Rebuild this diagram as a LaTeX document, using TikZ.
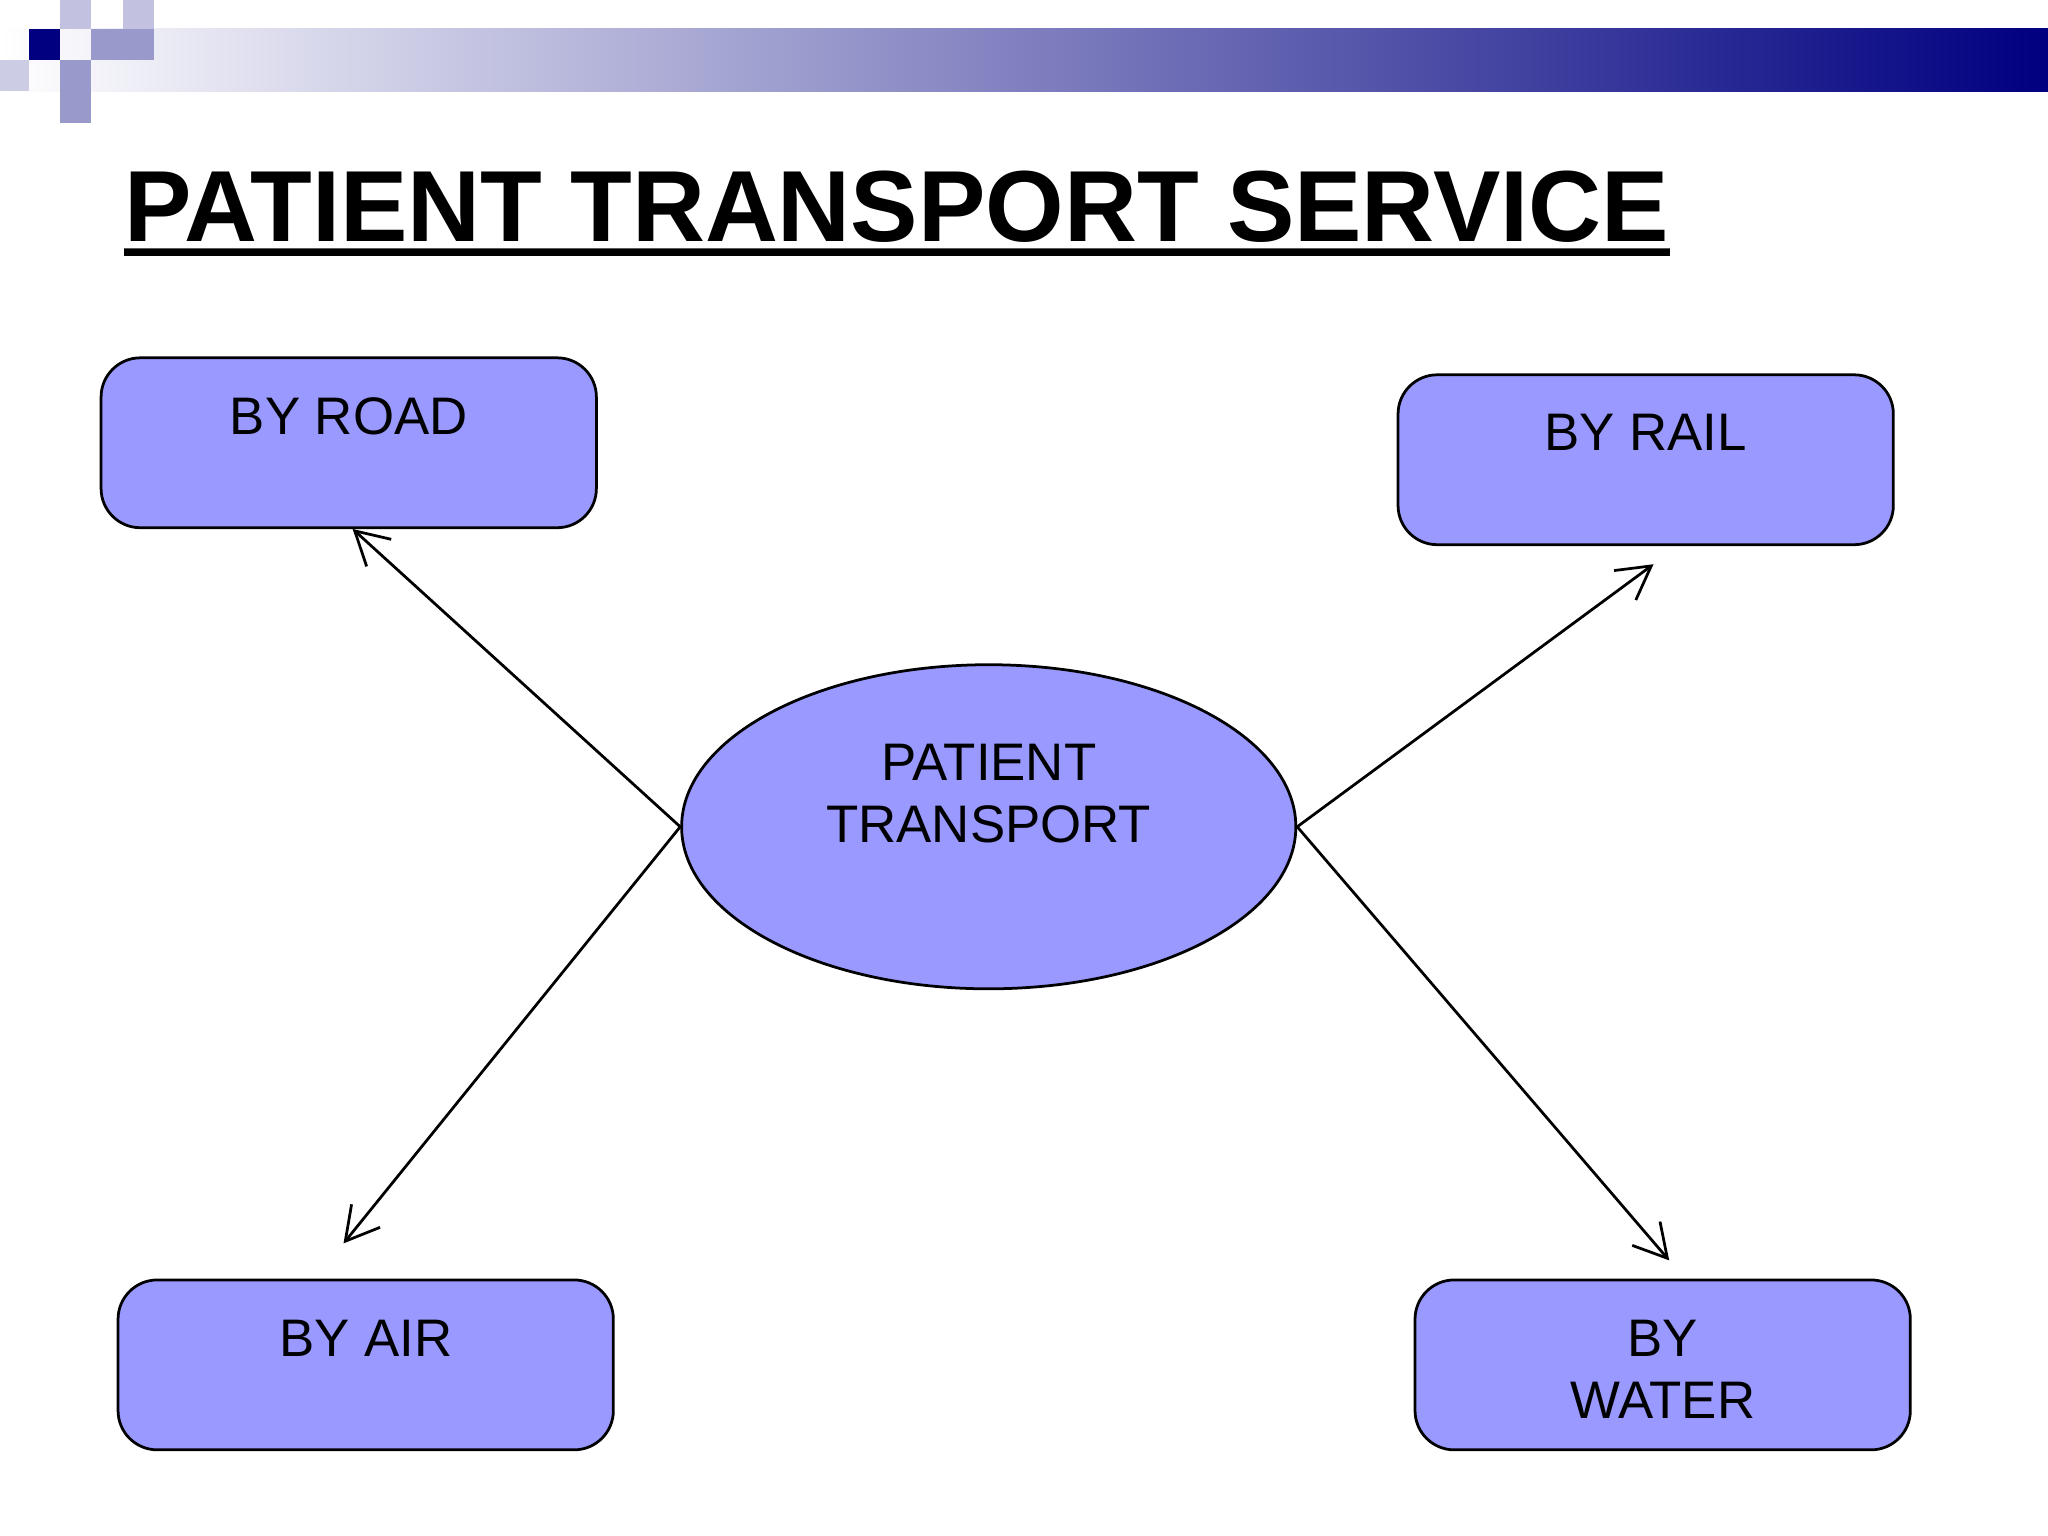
\documentclass[tikz,border=0pt]{standalone}
\usepackage{fontspec}
\setmainfont{Liberation Sans}
\usetikzlibrary{arrows.meta,shapes.geometric}
\definecolor{boxfill}{HTML}{9999FF}
\definecolor{navy}{HTML}{000080}
\definecolor{lav}{HTML}{9999CC}

\begin{document}
\begin{tikzpicture}[
    x=0.01cm, y=-0.01cm,
    mode/.style={draw, rounded corners=0.3cm, fill=boxfill, line width=0.6pt, minimum width=3.79cm, minimum height=1.3cm},
    tag/.style={font=\fontsize{11.5}{13.5}\selectfont, align=center, anchor=north},
    >={Straight Barb[length=2.5mm, width=2.8mm]}
  ]
    \useasboundingbox[fill=white] (0,0) rectangle (1568,1176);
    % banner
    \shade[left color=white, right color=navy] (0,22) rectangle (1568,70);
    \fill[lav] (70,22) rectangle (94,46);
    \fill[lav] (94,22) rectangle (118,46);
    \fill[lav!60] (94,0) rectangle (118,22);
    \fill[lav!60] (46,0) rectangle (70,22);
    \fill[lav] (46,46) rectangle (70,70);
    \fill[lav] (46,70) rectangle (70,94);
    \fill[lav!50] (0,46) rectangle (22,70);
    \fill[navy] (22,22) rectangle (46,46);

    \node[anchor=base west, inner sep=0pt, font=\bfseries\fontsize{22}{26}\selectfont] (title) at (95,185) {PATIENT TRANSPORT SERVICE};
    \draw[line width=1.6pt] (title.base west) ++(0,8) -- ([yshift=-0.08cm]title.base east);

    \node[draw, ellipse, fill=boxfill, line width=0.6pt, minimum width=4.7cm, minimum height=2.48cm] (hub) at (757,633) {};
    \node[tag] at (757,557) {PATIENT\\TRANSPORT};

    \node[mode] (road) at (267,339) {};
    \node[mode] (rail) at (1260,352) {};
    \node[mode] (air) at (280,1045) {};
    \node[mode] (water) at (1273,1045) {};
    \node[tag] at (267,292) {BY ROAD};
    \node[tag] at (1260,305) {BY RAIL};
    \node[tag] at (280,998) {BY AIR};
    \node[tag] at (1273,998) {BY\\WATER};

    \coordinate (roadend) at (270,405);
    \coordinate (railend) at (1266,432);
    \coordinate (airend) at (263,952);
    \coordinate (waterend) at (1278,965);

    \draw[->, line width=0.6pt] (hub.west) -- (roadend);
    \draw[->, line width=0.6pt] (hub.west) -- (airend);
    \draw[->, line width=0.6pt] (hub.east) -- (railend);
    \draw[->, line width=0.6pt] (hub.east) -- (waterend);
  \end{tikzpicture}
\end{document}
